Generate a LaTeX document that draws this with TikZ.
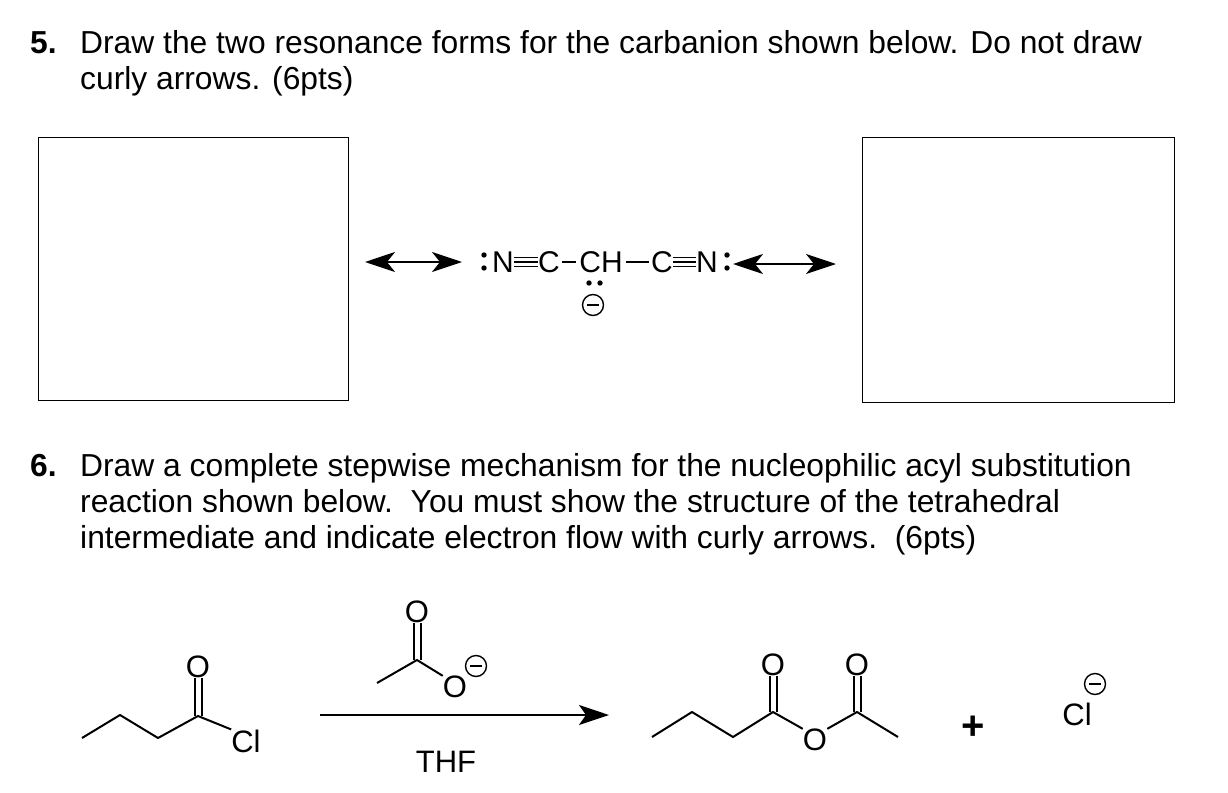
\documentclass[tikz,border=0pt]{standalone}
\usepackage{fontspec}
\setmainfont{Liberation Sans}
\usetikzlibrary{arrows.meta}
\begin{document}
\begin{tikzpicture}[x=1pt,y=-1pt,
  q/.style={anchor=base west,inner sep=0pt,font=\fontsize{31.8}{36}\selectfont},
  atom/.style={inner sep=0pt,font=\fontsize{31}{33}\selectfont},
  catom/.style={inner sep=0pt,font=\fontsize{30}{32}\selectfont},
  bond/.style={line width=2pt},
  bx/.style={draw,line width=1.2pt},
  rarr/.style={line width=2pt,{Stealth[length=30pt,width=20pt,inset=8pt]}-{Stealth[length=30pt,width=20pt,inset=8pt]}},
  fa/.style={line width=2pt,-{Stealth[length=30pt,width=20pt,inset=7pt]}},
  chg/.style={circle,draw,line width=1.4pt,minimum size=21pt,inner sep=0pt}]
\useasboundingbox (0,0) rectangle (1228,792);
% Question 5
\node[q] (n5) at (30,53) {\textbf{5.}};
\node[q] (t5a) at (80,53) {Draw the two resonance forms for the carbanion shown below. Do not draw};
\node[q] (t5b) at (80,89) {curly arrows. (6pts)};
\node[bx,minimum width=310pt,minimum height=263pt,anchor=north west] (b1) at (38,137) {};
\node[bx,minimum width=312pt,minimum height=265pt,anchor=north west] (b2) at (862,137) {};
% central carbanion
\node[catom] (N1) at (503,262) {N};
\node[catom] (C1) at (549,262) {C};
\node[catom] (C2) at (601,262) {CH};
\node[catom] (C3) at (662,262) {C};
\node[catom] (N2) at (707,262) {N};
\foreach \y in {255,268}{\fill (484,\y) circle (2.7pt); \fill (727,\y) circle (2.7pt);}
\foreach \d in {-4.5,0,4.5}{\draw[line width=1.3pt] ([yshift=\d pt]N1.east) -- ([yshift=\d pt]C1.west);
  \draw[line width=1.3pt] ([yshift=\d pt]C3.east) -- ([yshift=\d pt]N2.west);}
\draw[line width=1.3pt] ([xshift=2pt]C1.east) -- ([xshift=-3pt]C2.west);
\draw[line width=1.3pt] ([xshift=3pt]C2.east) -- ([xshift=-2pt]C3.west);
\fill (589,283) circle (2.7pt); \fill (600,283) circle (2.7pt);
\node[chg] (m1) at (593,305) {}; \draw[line width=1.8pt] (587,305) -- (599,305);
\coordinate (a1s) at (365,262); \coordinate (a1e) at (462,262);
\coordinate (a2s) at (733,264); \coordinate (a2e) at (836,264);
\draw[rarr] (a1s) -- (a1e);
\draw[rarr] (a2s) -- (a2e);
% Question 6
\node[q] (n6) at (30,476) {\textbf{6.}};
\node[q] (t6a) at (80,476) {Draw a complete stepwise mechanism for the nucleophilic acyl substitution};
\node[q] (t6b) at (80,512) {reaction shown below.\ \ You must show the structure of the tetrahedral};
\node[q] (t6c) at (80,548) {intermediate and indicate electron flow with curly arrows.\ \ (6pts)};
% acyl chloride
\coordinate (p1) at (82,738); \coordinate (p2) at (120,715); \coordinate (p3) at (158,738); \coordinate (p4) at (198,716);
\node[atom] (O1) at (198,667) {O};
\node[atom] (Cl1) at (246,741) {Cl};
\draw[bond,line join=round] (p1) -- (p2) -- (p3) -- (p4) -- (Cl1.north west);
\draw[bond] ([xshift=-3.5pt]p4) -- ([xshift=-3.5pt]O1.south); \draw[bond] ([xshift=3.5pt]p4) -- ([xshift=3.5pt]O1.south);
% acetate
\coordinate (r1) at (377,683); \coordinate (r2) at (417,660);
\node[atom] (O2) at (417,612) {O};
\node[atom] (O3) at (455,687) {O};
\draw[bond] (r1) -- (r2) -- (O3.north west);
\draw[bond] ([xshift=-3.5pt]r2) -- ([xshift=-3.5pt]O2.south); \draw[bond] ([xshift=3.5pt]r2) -- ([xshift=3.5pt]O2.south);
\node[chg] (m2) at (476,666) {}; \draw[line width=1.8pt] (470,666) -- (482,666);
% arrow
\coordinate (ar1) at (320,715); \coordinate (ar2) at (609,715);
\draw[fa] (ar1) -- (ar2);
\node[atom] (thf) at (446,762) {THF};
% product
\coordinate (s1) at (652,737); \coordinate (s2) at (692,712); \coordinate (s3) at (733,737); \coordinate (s4) at (773,712);
\node[atom] (O4) at (773,665) {O};
\node[atom] (O5) at (815,740) {O};
\coordinate (s6) at (857,712); \coordinate (s7) at (898,737);
\node[atom] (O6) at (857,665) {O};
\draw[bond,line join=round] (s1) -- (s2) -- (s3) -- (s4) -- (O5.north west);
\draw[bond,line join=round] (O5.north east) -- (s6) -- (s7);
\draw[bond] ([xshift=-3.5pt]s4) -- ([xshift=-3.5pt]O4.south); \draw[bond] ([xshift=3.5pt]s4) -- ([xshift=3.5pt]O4.south);
\draw[bond] ([xshift=-3.5pt]s6) -- ([xshift=-3.5pt]O6.south); \draw[bond] ([xshift=3.5pt]s6) -- ([xshift=3.5pt]O6.south);
\node[inner sep=0pt,font=\fontsize{40}{42}\selectfont\bfseries] (plus) at (973,728) {+};
\node[atom] (Cl2) at (1077,714) {Cl};
\node[chg] (m3) at (1095,684) {}; \draw[line width=1.8pt] (1089,684) -- (1101,684);
\end{tikzpicture}
\end{document}
